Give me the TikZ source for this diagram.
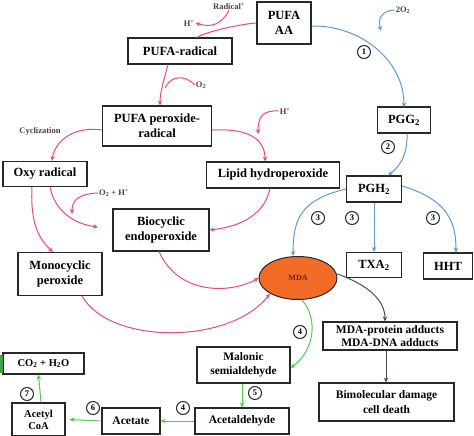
\documentclass[tikz,border=0pt]{standalone}
\usepackage{fontspec}
\setmainfont{Liberation Serif}
\usetikzlibrary{arrows.meta,shapes.geometric}
\definecolor{pinkc}{RGB}{226,78,118}
\definecolor{bluec}{RGB}{96,152,208}
\definecolor{greenc}{RGB}{84,200,84}
\definecolor{darkc}{RGB}{85,70,70}
\definecolor{boxc}{RGB}{40,40,40}
\definecolor{labc}{RGB}{75,65,65}
\definecolor{orangec}{RGB}{242,108,40}
\tikzset{
  box/.style={draw=boxc, line width=1.1pt, align=center, inner sep=1pt,
    font=\fontsize{12.5}{15}\selectfont\bfseries, text=black},
  lbl/.style={font=\fontsize{8.5}{10}\selectfont\bfseries, text=labc, inner sep=1pt},
  num/.style={circle, draw=boxc, line width=1pt, inner sep=0pt, minimum size=13pt,
    font=\fontsize{8.5}{9}\selectfont\bfseries},
  parr/.style={draw=pinkc, line width=1pt, -{Stealth[length=5pt,width=4.5pt]}},
  pline/.style={draw=pinkc, line width=1pt},
  barr/.style={draw=bluec, line width=1pt, -{Stealth[length=5pt,width=4.5pt]}},
  garr/.style={draw=greenc, line width=1pt, -{Stealth[length=5pt,width=4.5pt]}},
  darr/.style={draw=darkc, line width=1pt, -{Stealth[length=5pt,width=4.5pt]}},
}
\begin{document}
\begin{tikzpicture}[x=1pt,y=-1pt]
\useasboundingbox (0,0) rectangle (474,436);
% boxes
\node[box, minimum width=54pt, minimum height=42pt] (pufa) at (284,23) {PUFA\\AA};
\node[box, minimum width=104pt, minimum height=26pt] (prad) at (180,51) {PUFA-radical};
\node[box, minimum width=109pt, minimum height=40pt] (pperox) at (157,126) {PUFA peroxide-\\radical};
\node[box, minimum width=53pt, minimum height=26pt] (pgg) at (404,120) {PGG\textsubscript{2}};
\node[box, minimum width=84pt, minimum height=25pt] (oxy) at (45,174) {Oxy radical};
\node[box, minimum width=133pt, minimum height=26pt] (lipid) at (273,175) {Lipid hydroperoxide};
\node[box, minimum width=96pt, minimum height=42pt] (bio) at (161,230) {Biocyclic\\endoperoxide};
\node[box, minimum width=55pt, minimum height=26pt] (pgh) at (374,189) {PGH\textsubscript{2}};
\node[box, minimum width=84pt, minimum height=43pt] (mono) at (60,274) {Monocyclic\\peroxide};
\node[ellipse, draw=boxc, line width=1pt, fill=orangec, minimum width=78pt, minimum height=43pt,
  inner sep=0pt, font=\fontsize{8}{9}\selectfont\bfseries, text={rgb,255:red,120;green,30;blue,20}] (mda) at (298,278) {MDA};
\node[box, minimum width=55pt, minimum height=25pt] (txa) at (374,265) {TXA\textsubscript{2}};
\node[box, minimum width=49pt, minimum height=26pt] (hht) at (448,266) {HHT};
\node[box, minimum width=134pt, minimum height=28pt, font=\fontsize{11.5}{13}\selectfont\bfseries] (add) at (390,336) {MDA-protein adducts\\MDA-DNA adducts};
\node[box, minimum width=135pt, minimum height=38pt, font=\fontsize{11.5}{15}\selectfont\bfseries] (bim) at (386.5,402) {Bimolecular damage\\cell death};
\node[box, minimum width=93pt, minimum height=36pt, font=\fontsize{11.5}{14}\selectfont\bfseries] (mal) at (243.5,365) {Malonic\\semialdehyde};
\node[box, minimum width=94pt, minimum height=26pt, font=\fontsize{11.5}{14}\selectfont\bfseries] (ald) at (242,421) {Acetaldehyde};
\node[box, minimum width=58pt, minimum height=26pt, font=\fontsize{11.5}{14}\selectfont\bfseries] (ace) at (131,421) {Acetate};
\node[box, minimum width=53pt, minimum height=33pt, font=\fontsize{10.5}{12}\selectfont\bfseries] (acoa) at (38.5,419.5) {Acetyl\\CoA};
\node[box, minimum width=81pt, minimum height=21pt, font=\fontsize{10.5}{12}\selectfont\bfseries] (co2) at (43.5,363.5) {CO\textsubscript{2} + H\textsubscript{2}O};
\fill[greenc!80!black] (0,355) rectangle (3,373);
% small labels
\node[lbl] (radl) at (229,6) {Radical\textsuperscript{+}};
\node[lbl] (h1) at (189,23) {H\textsuperscript{+}};
\node[lbl] (o2a) at (201,85) {O\textsubscript{2}};
\node[lbl] (cyc) at (40,131) {Cyclization};
\node[lbl] (h2) at (285,111) {H\textsuperscript{+}};
\node[lbl] (o2h) at (114,193) {O\textsubscript{2} + H\textsuperscript{+}};
\node[lbl] (o2b) at (403,10) {2O\textsubscript{2}};
% pink pathway
\draw[pline] (pufa.west) .. controls (240,24) and (205,32) .. ([xshift=17pt]prad.north);
\draw[parr] (radl.south) .. controls (222,24) and (212,28) .. (h1.east);
\draw[parr] ([xshift=-12pt]prad.south) .. controls (164,80) and (160,92) .. ([xshift=3pt]pperox.north);
\draw[pline] (o2a.west) .. controls (185,74) and (170,76) .. (165,88);
\draw[parr] ([yshift=-4pt]pperox.west) .. controls (75,126) and (55,140) .. ([xshift=7pt]oxy.north);
\draw[parr] ([yshift=-4pt]pperox.east) .. controls (250,128) and (265,140) .. ([xshift=-8pt]lipid.north);
\draw[parr] (h2.west) .. controls (262,110) and (258,118) .. (258,134);
\draw[parr] ([xshift=-13pt]oxy.south) .. controls (30,225) and (40,240) .. ([xshift=-7pt]mono.north);
\draw[parr] ([xshift=5pt]oxy.south) .. controls (55,212) and (75,224) .. (98,227);
\draw[parr] (o2h.west) .. controls (76,194) and (72,202) .. (72,214);
\draw[parr] ([xshift=-3pt]lipid.south) .. controls (265,212) and (245,226) .. (bio.east);
\draw[parr] ([xshift=-2pt]bio.south) .. controls (180,298) and (235,292) .. (mda.west);
\draw[parr] ([xshift=22pt]mono.south) .. controls (110,345) and (230,345) .. (mda.south west);
% blue pathway
\draw[barr] ([yshift=-3pt]pufa.east) .. controls (360,25) and (404,60) .. ([yshift=-1pt]pgg.north);
\draw[barr] (o2b.west) .. controls (380,11) and (378,20) .. (381,31);
\node[num] (n1) at (364,52) {1};
\draw[barr] ([xshift=3pt]pgg.south) .. controls (408,160) and (395,170) .. ([xshift=14pt]pgh.north);
\node[num] (n2) at (388,147) {2};
\draw[barr] (pgh.west) .. controls (300,200) and (293,220) .. ([xshift=-5pt]mda.north);
\draw[barr] (pgh.south) -- (txa.north);
\draw[barr] ([yshift=3pt]pgh.east) .. controls (450,200) and (456,225) .. ([xshift=8pt]hht.north);
\node[num] (n3a) at (318,218) {3};
\node[num] (n3b) at (352,218) {3};
\node[num] (n3c) at (433,218) {3};
% dark
\draw[darr] ([yshift=4pt]mda.east) .. controls (368,285) and (385,300) .. ([xshift=-5pt]add.north);
\draw[darr] ([xshift=-4pt]add.south) -- ([xshift=-0.5pt]bim.north);
% green
\draw[garr] ([xshift=4pt]mda.south) .. controls (318,318) and (315,350) .. ([yshift=-3pt]mal.east);
\node[num] (n4a) at (300,332) {4};
\draw[garr] ([xshift=-1.5pt]mal.south) -- (ald.north);
\node[num] (n5) at (255,393) {5};
\draw[garr] (ald.west) -- (ace.east);
\node[num] (n4b) at (183,408) {4};
\draw[garr] (ace.west) -- ([xshift=4pt]acoa.east);
\node[num] (n6) at (93,408) {6};
\draw[garr] ([xshift=2.5pt]acoa.north) -- (acoa.north |- co2.south);
\node[num] (n7) at (27,394) {7};
\end{tikzpicture}
\end{document}
